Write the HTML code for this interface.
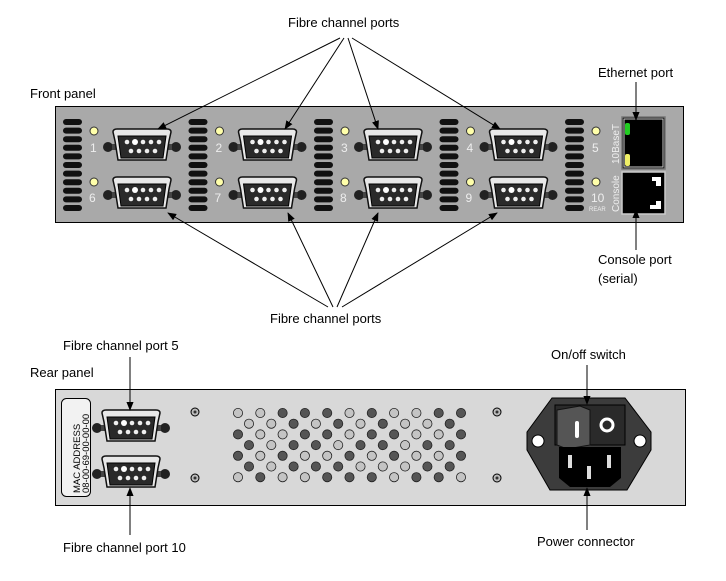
<!DOCTYPE html>
<html><head><meta charset="utf-8"><style>
html,body{margin:0;padding:0;background:#fff;width:726px;height:581px;overflow:hidden}
svg{display:block;font-family:"Liberation Sans",sans-serif}
</style></head><body>
<svg id="s" width="726" height="581" viewBox="0 0 726 581" xmlns="http://www.w3.org/2000/svg">
<defs>
<marker id="ar" viewBox="0 0 10 10" refX="9" refY="5" markerWidth="9" markerHeight="9" orient="auto-start-reverse"><path d="M0,1 L10,5 L0,9 Z" fill="#000"/></marker>
<g id="conn">
<circle cx="-34" cy="0" r="5" fill="#222"/><circle cx="34" cy="0" r="5" fill="#222"/>
<rect x="-30" y="-3" width="60" height="6" fill="#444"/>
<path d="M-29,-15 Q-29,-18 -25,-18 L25,-18 Q29,-18 29,-15 L27,-6 L24,13 L-24,13 L-27,-6 Z" fill="#e8e8e8" stroke="#111" stroke-width="1.5"/>
<path d="M-24,-11 L24,-11 L21,11 L-21,11 Z" fill="#2a2a2a" stroke="#000"/>
<circle cx="-15" cy="-5" r="2.3" fill="#eee"/><circle cx="-7" cy="-5" r="3" fill="#fff"/><circle cx="1" cy="-5" r="2.3" fill="#eee"/><circle cx="9" cy="-5" r="2.3" fill="#eee"/><circle cx="17" cy="-5" r="2.3" fill="#eee"/>
<circle cx="-11" cy="4" r="2.3" fill="#eee"/><circle cx="-3" cy="4" r="2.3" fill="#eee"/><circle cx="5" cy="4" r="2.3" fill="#eee"/><circle cx="13" cy="4" r="2.3" fill="#eee"/>
</g>
</defs>
<g font-size="13" fill="#000">
<text x="288" y="27">Fibre channel ports</text>
<text x="30" y="98">Front panel</text>
<text x="598" y="77">Ethernet port</text>
<text x="598" y="264">Console port</text>
<text x="598" y="283">(serial)</text>
<text x="270" y="323">Fibre channel ports</text>
<text x="63" y="350">Fibre channel port 5</text>
<text x="551" y="359">On/off switch</text>
<text x="30" y="377">Rear panel</text>
<text x="63" y="552">Fibre channel port 10</text>
<text x="537" y="546">Power connector</text>
</g>
<rect x="55.5" y="106.5" width="628" height="116" fill="#a9a9a9" stroke="#000"/>
<rect x="55.5" y="389.5" width="630" height="116" fill="#d8d8d8" stroke="#000"/>
<g id="front"></g>
<!-- ethernet -->
<rect x="622" y="117" width="43" height="52" fill="#000" stroke="#777" stroke-width="1.5"/>
<rect x="624" y="119" width="39" height="48" fill="#000" stroke="#ccc" stroke-width="1"/>
<rect x="625" y="123" width="5" height="12" rx="2" fill="#2c2"/>
<rect x="625" y="154" width="5" height="12" rx="2" fill="#ee6"/>
<rect x="622" y="172" width="43" height="42" fill="#000" stroke="#ccc" stroke-width="1.5"/>
<path d="M652,177 L661,177 L661,186 L656,186 L656,181 L652,181 Z M656,201 L661,201 L661,209 L650,209 L650,205 L656,205 Z" fill="#fff"/>
<text transform="translate(619,164) rotate(-90)" font-size="10" fill="#eee">10BaseT</text>
<text transform="translate(619,212) rotate(-90)" font-size="10" fill="#eee">Console</text>
<!-- rear -->
<rect x="61.5" y="398.5" width="29" height="98" rx="5" fill="#f2f2f2" stroke="#000"/>
<text transform="translate(80,493) rotate(-90)" font-size="9.5">MAC ADDRESS</text>
<text transform="translate(89,493) rotate(-90)" font-size="9.5">08-00-69-00-00-00</text>
<use href="#conn" x="131" y="428"/>
<use href="#conn" x="131" y="474"/>
<g id="rear"></g>
<!-- power -->
<path d="M552,398 L625,398 L651,432 L651,450 L627,490 L550,490 L527,450 L527,432 Z" fill="#3c3c3c" stroke="#000"/>
<circle cx="538" cy="441" r="6" fill="#fff" stroke="#000"/>
<circle cx="640" cy="441" r="6" fill="#fff" stroke="#000"/>
<rect x="555" y="405" width="70" height="40" fill="#2a2a2a" stroke="#000"/>
<path d="M557,410 L580,406 L590,410 L590,445 L567,449 L557,445 Z" fill="#555" stroke="#111"/>
<rect x="575" y="421" width="4" height="17" rx="2" fill="#fff"/>
<circle cx="607" cy="425" r="6" fill="none" stroke="#fff" stroke-width="3"/>
<path d="M559,447 L621,447 L621,478 L610,487 L570,487 L559,478 Z" fill="#000"/>
<rect x="568" y="455" width="4" height="13" fill="#ddd"/><rect x="607" y="455" width="4" height="13" fill="#ddd"/><rect x="587" y="466" width="4" height="13" fill="#ddd"/>
<!-- arrows -->
<g stroke="#000" stroke-width="1" fill="none" marker-end="url(#ar)">
<line x1="340" y1="38" x2="158" y2="129"/>
<line x1="344" y1="38" x2="285" y2="129"/>
<line x1="348" y1="38" x2="378" y2="129"/>
<line x1="352" y1="38" x2="500" y2="129"/>
<line x1="328" y1="307" x2="168" y2="213"/>
<line x1="333" y1="307" x2="288" y2="213"/>
<line x1="337" y1="307" x2="378" y2="213"/>
<line x1="342" y1="307" x2="497" y2="213"/>
<line x1="636" y1="82" x2="636" y2="120"/>
<line x1="636" y1="250" x2="636" y2="210"/>
<line x1="130" y1="357" x2="130" y2="410"/>
<line x1="130" y1="535" x2="130" y2="488"/>
<line x1="587" y1="365" x2="587" y2="404"/>
<line x1="587" y1="530" x2="587" y2="488"/>
</g>
</svg>
<script>
var NS="http://www.w3.org/2000/svg";
function el(p,t,a){var e=document.createElementNS(NS,t);for(var k in a)e.setAttribute(k,a[k]);p.appendChild(e);return e;}
var f=document.getElementById("front");
var nums=[["1","6"],["2","7"],["3","8"],["4","9"],["5","10"]];
for(var i=0;i<5;i++){
 var gx=63+125.5*i;
 for(var b=0;b<11;b++) el(f,"rect",{x:gx,y:119+b*8.6,width:19,height:6,rx:3,fill:"#111"});
 el(f,"circle",{cx:gx+31,cy:131,r:4,fill:"#ffffaa",stroke:"#333","stroke-width":1});
 el(f,"circle",{cx:gx+31,cy:182,r:4,fill:"#ffffaa",stroke:"#333","stroke-width":1});
 var t=el(f,"text",{x:gx+27,y:152,"font-size":"12",fill:"#eee"});t.textContent=nums[i][0];
 t=el(f,"text",{x:gx+26,y:202,"font-size":"12",fill:"#eee"});t.textContent=nums[i][1];
 if(i<4){el(f,"use",{href:"#conn",x:gx+79,y:147});el(f,"use",{href:"#conn",x:gx+79,y:195});}
}
var t=el(f,"text",{x:589,y:211,"font-size":"6",fill:"#eee"});t.textContent="REAR";
var r=document.getElementById("rear");
[[195,412],[195,478],[497,412],[497,478]].forEach(function(p){
 el(r,"circle",{cx:p[0],cy:p[1],r:4,fill:"#bbb",stroke:"#000"});
 el(r,"circle",{cx:p[0],cy:p[1],r:1.5,fill:"#333"});});
var seed=7;function rnd(){seed=(seed*9301+49297)%233280;return seed/233280;}
for(var row=0;row<7;row++){
 var y=413+row*10.7, n=row%2?10:11, x0=row%2?249:238;
 for(var c=0;c<n;c++){
  var d=rnd()<0.45;
  el(r,"circle",{cx:x0+c*22.3,cy:y,r:4.6,fill:d?"#555":"#c4c4c4",stroke:"#222","stroke-width":0.8});
 }
}
</script>
</body></html>
